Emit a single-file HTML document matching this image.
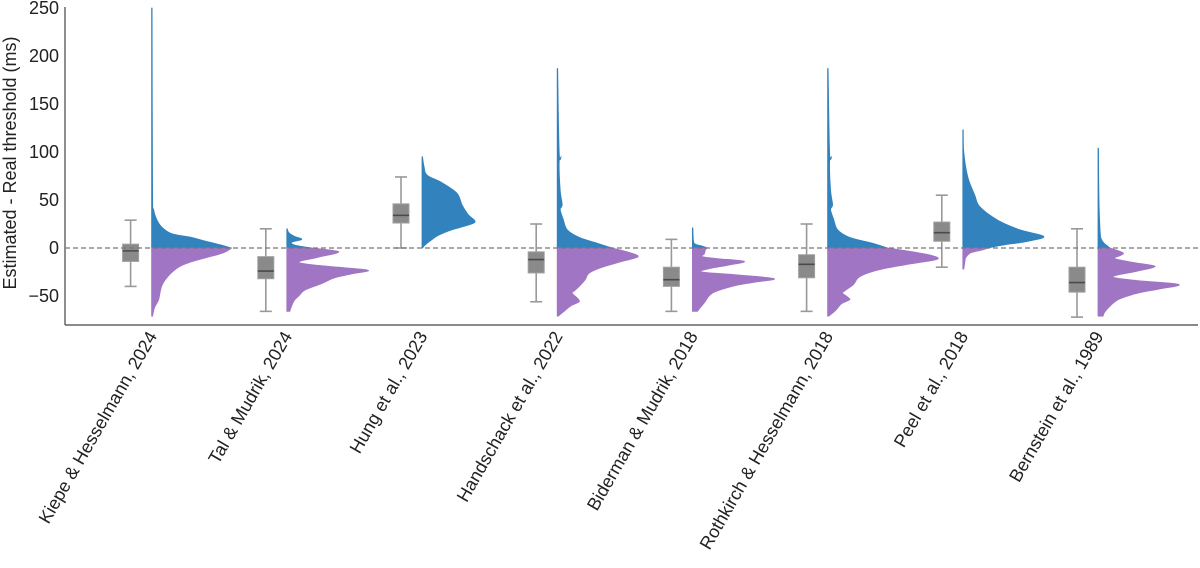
<!DOCTYPE html>
<html><head><meta charset="utf-8"><style>
html,body{margin:0;padding:0;background:#fff;width:1200px;height:568px;overflow:hidden}
svg{display:block;font-family:"Liberation Sans",Arial,sans-serif}
</style></head><body>
<svg id="chart" width="1200" height="568" viewBox="0 0 1200 568"></svg>
<script>
const categories=["Kiepe & Hesselmann, 2024","Tal & Mudrik, 2024","Hung et al., 2023","Handschack et al., 2022","Biderman & Mudrik, 2018","Rothkirch & Hesselmann, 2018","Peel et al., 2018","Bernstein et al., 1989"];
const yTicks=[-50,0,50,100,150,200,250];
// box stats: whisker low, q1, median, q3, whisker high
const boxWhiskLo=[-40,-66,0,-56,-66,-66,-20,-72];
const boxQ1=[-14,-32,26,-26,-40,-31,7,-46];
const boxMedian=[-3,-24,34,-12,-33,-17,16,-36];
const boxQ3=[4,-9,46,-4,-20,-7,27,-20];
const boxWhiskHi=[29,20,74,25,9,25,55,20];
// density profiles (value, density) — positive part (blue) and negative part (purple)
const densPos=[
 [[250,0.5],[60,1],[40,2],[30,5],[22,10],[15,20],[11,40],[6,58],[3,70],[0,80]],
 [[20,0.5],[16,2],[12,8],[9,15],[6,5],[3,8],[0,25]],
 [[95,0.5],[85,2],[76,5],[68,20],[57,35],[45,40],[35,46],[27,53],[22,40],[19,30],[13,16],[8,9],[3,3],[0,0.5]],
 [[187,0.5],[100,2],[95,4],[90,2],[60,3],[45,5],[40,3],[30,6],[19,10],[11,22],[5,40],[0,55]],
 [[21,0.5],[8,1],[4,3],[2,10],[0,15]],
 [[187,0.5],[100,2],[95,4],[90,2],[60,3],[45,5],[40,3],[30,6],[19,10],[11,22],[5,45],[0,60]],
 [[123,0.5],[100,1],[74,5],[55,12],[43,17],[29,35],[19,57],[12,81],[7,65],[3,40],[0,25]],
 [[104,0.5],[50,1],[20,2],[10,3],[5,6],[0,12]]
];
const densNeg=[
 [[0,80],[-5,72],[-10,55],[-15,38],[-20,27],[-30,16],[-40,10],[-54,7],[-62,3],[-71,1]],
 [[0,25],[-4,52],[-10,30],[-15,12],[-19,40],[-23,81],[-27,65],[-31,48],[-37,35],[-44,18],[-50,12],[-54,8],[-60,5],[-66,3]],
 [],
 [[0,55],[-4,70],[-9,81],[-14,65],[-20,45],[-26,32],[-33,28],[-40,22],[-44,18],[-47,15],[-52,20],[-56,22],[-60,14],[-65,8],[-71,1]],
 [[0,15],[-2,13],[-6,12],[-9,10],[-11,25],[-14,52],[-18,35],[-22,15],[-25,10],[-28,45],[-32,82],[-36,60],[-40,40],[-47,20],[-57,12],[-62,8],[-66,5]],
 [[0,60],[-4,85],[-8,105],[-12,109],[-17,80],[-23,50],[-30,32],[-38,26],[-44,18],[-47,15],[-51,20],[-54,22],[-58,14],[-65,8],[-71,1]],
 [[0,25],[-2,20],[-5,8],[-10,3],[-15,2],[-22,1]],
 [[0,12],[-5,25],[-8,22],[-11,17],[-15,35],[-19,57],[-24,40],[-30,15],[-34,40],[-38,81],[-43,60],[-47,40],[-54,20],[-65,8],[-71,5]]
];
const NS="http://www.w3.org/2000/svg";
const svg=document.getElementById('chart');
const X0=65,X1=1198,YT=7,YB=325;
function yS(v){return 248-0.96*v;}
function xS(i){return 130.6+135.2*i;}
function dS(d){return d;}
function mk(tag,attrs,parent){const e=document.createElementNS(NS,tag);for(const k in attrs)e.setAttribute(k,attrs[k]);(parent||svg).appendChild(e);return e;}

let e=mk('line',{x1:X0,y1:YT,x2:X0,y2:YB,stroke:'#444','stroke-width':1.2});


e=mk('line',{x1:X0,y1:YB,x2:X1,y2:YB,stroke:'#444','stroke-width':1.2});


yTicks.forEach(t=>{
 const tx=mk('text',{x:59,y:yS(t)+6,'text-anchor':'end','font-size':18,fill:'#222'});
 tx.textContent=t<0?'\u2212'+Math.abs(t):String(t);
 
 
});
e=mk('text',{x:0,y:0,'text-anchor':'middle','font-size':18,fill:'#222',transform:'translate(16,163) rotate(-90)'});
e.textContent='Estimated - Real threshold (ms)';



function smoothPath(P){
 let d='';
 for(let k=0;k<P.length-1;k++){
  const p0=P[Math.max(0,k-1)],p1=P[k],p2=P[k+1],p3=P[Math.min(P.length-1,k+2)];
  const c1x=p1[0]+(p2[0]-p0[0])/6,c1y=p1[1]+(p2[1]-p0[1])/6;
  const c2x=p2[0]-(p3[0]-p1[0])/6,c2y=p2[1]-(p3[1]-p1[1])/6;
  d+=` C${c1x.toFixed(1)},${c1y.toFixed(1)} ${c2x.toFixed(1)},${c2y.toFixed(1)} ${p2[0].toFixed(1)},${p2[1].toFixed(1)}`;
 }
 return d;
}
function violin(i,pts,color,name){
 if(!pts.length)return;
 const x0=xS(i)+21;
 const P=pts.map(p=>[x0+dS(p[1]),yS(p[0])]);
 let d='M'+x0+','+yS(pts[0][0])+' L'+P[0][0].toFixed(1)+','+P[0][1].toFixed(1)+smoothPath(P);
 d+=' L'+x0+','+yS(pts[pts.length-1][0])+' Z';
 const p=mk('path',{d:d,fill:color,stroke:color,'stroke-width':0.8,'stroke-linejoin':'round'});
 
 
}
categories.forEach((c,i)=>{
 violin(i,densPos[i],'#3182bd','violin-positive');
 violin(i,densNeg[i],'#a076c4','violin-negative');
 const cx=xS(i);
 const g=mk('g',{});
 
 
 mk('line',{x1:cx,y1:yS(boxWhiskHi[i]),x2:cx,y2:yS(boxQ3[i]),stroke:'#999','stroke-width':1.6},g);
 mk('line',{x1:cx,y1:yS(boxQ1[i]),x2:cx,y2:yS(boxWhiskLo[i]),stroke:'#999','stroke-width':1.6},g);
 mk('line',{x1:cx-6,y1:yS(boxWhiskHi[i]),x2:cx+6,y2:yS(boxWhiskHi[i]),stroke:'#999','stroke-width':1.6},g);
 mk('line',{x1:cx-6,y1:yS(boxWhiskLo[i]),x2:cx+6,y2:yS(boxWhiskLo[i]),stroke:'#999','stroke-width':1.6},g);
 mk('rect',{x:cx-8,y:yS(boxQ3[i]),width:16,height:yS(boxQ1[i])-yS(boxQ3[i]),fill:'#8a8a8a',stroke:'#a0a0a0','stroke-width':1},g);
 mk('line',{x1:cx-8,y1:yS(boxMedian[i]),x2:cx+8,y2:yS(boxMedian[i]),stroke:'#4a4a4a','stroke-width':1.6},g);
 const lx=cx+27,ly=336;
 const t=mk('text',{x:0,y:0,'text-anchor':'end','font-size':18,fill:'#222',transform:`translate(${lx},${ly}) rotate(-60)`});
 t.textContent=c;
 
 
});
e=mk('line',{x1:X0,y1:yS(0),x2:X1,y2:yS(0),stroke:'#777','stroke-width':1.2,'stroke-dasharray':'5,3'});


</script>
</body></html>
